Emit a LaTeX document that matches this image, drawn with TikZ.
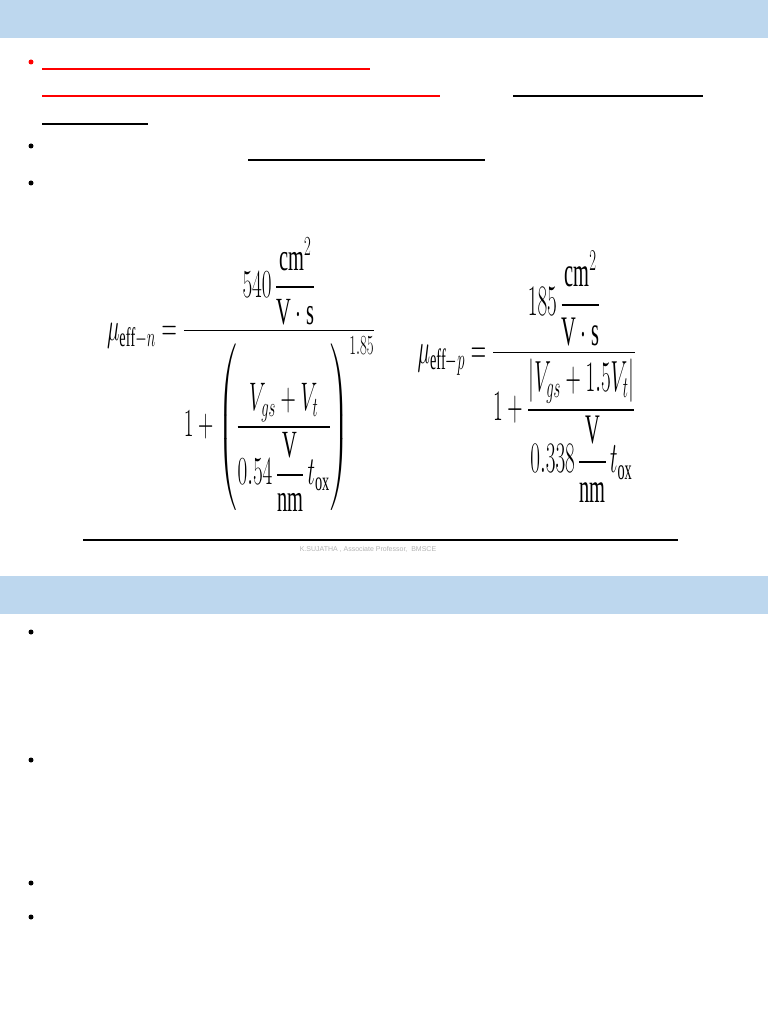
\documentclass[tikz,border=0pt]{standalone}
\usepackage{amsmath}
\usepackage{fontspec}
\setmainfont{Liberation Serif}
\newfontfamily\footfont{Liberation Sans}
\tikzset{ul/.style={line width=1.8pt}, dot/.style={circle, fill, inner sep=0pt, minimum size=5pt},
 eq/.style={inner sep=0pt, font=\fontsize{24}{28}\selectfont}}
\begin{document}
\begin{tikzpicture}[x=1pt,y=-1pt]
\definecolor{bandc}{HTML}{BDD7EE}
\useasboundingbox (0,0) rectangle (768,1024);
\fill[bandc] (0,0) rectangle (768,38);
\fill[bandc] (0,576) rectangle (768,614);
% slide 1 bullets
\node[dot, red] (b1) at (31,62) {};
\node[dot] (b2) at (31,146) {};
\node[dot] (b3) at (31,183) {};
\draw[ul, red] (42,69) -- (370,69);
\draw[ul, red] (42,96) -- (440,96);
\draw[ul] (513,96) -- (703,96);
\draw[ul] (42,124) -- (148,124);
\draw[ul] (248,160) -- (485,160);
% formulas
\node[eq, xscale=0.85, yscale=1.6] (f1) at (241,375) {$\mu_{\mathrm{eff}-n}=\dfrac{540\,\dfrac{\mathrm{cm}^2}{\mathrm{V\cdot s}}}{1+\left(\dfrac{V_{gs}+V_t}{0.54\,\dfrac{\mathrm{V}}{\mathrm{nm}}\,t_{\mathrm{ox}}}\right)^{1.85}}$};
\node[eq, xscale=0.85, yscale=1.75] (f2) at (527,377) {$\mu_{\mathrm{eff}-p}=\dfrac{185\,\dfrac{\mathrm{cm}^2}{\mathrm{V\cdot s}}}{1+\dfrac{\left|V_{gs}+1.5V_t\right|}{0.338\,\dfrac{\mathrm{V}}{\mathrm{nm}}\,t_{\mathrm{ox}}}}$};
\draw[line width=1.3pt] (83,540) coordinate (l1) -- (678,540) coordinate (l2);
\node[font=\footfont\fontsize{7}{8}\selectfont, text=black!30] (ft) at (368,549) {K.SUJATHA , Associate Professor,\ \ BMSCE};
% slide 2 bullets
\node[dot] (c1) at (31,632) {};
\node[dot] (c2) at (31,760) {};
\node[dot] (c3) at (31,883) {};
\node[dot] (c4) at (31,917) {};
\end{tikzpicture}
\end{document}
